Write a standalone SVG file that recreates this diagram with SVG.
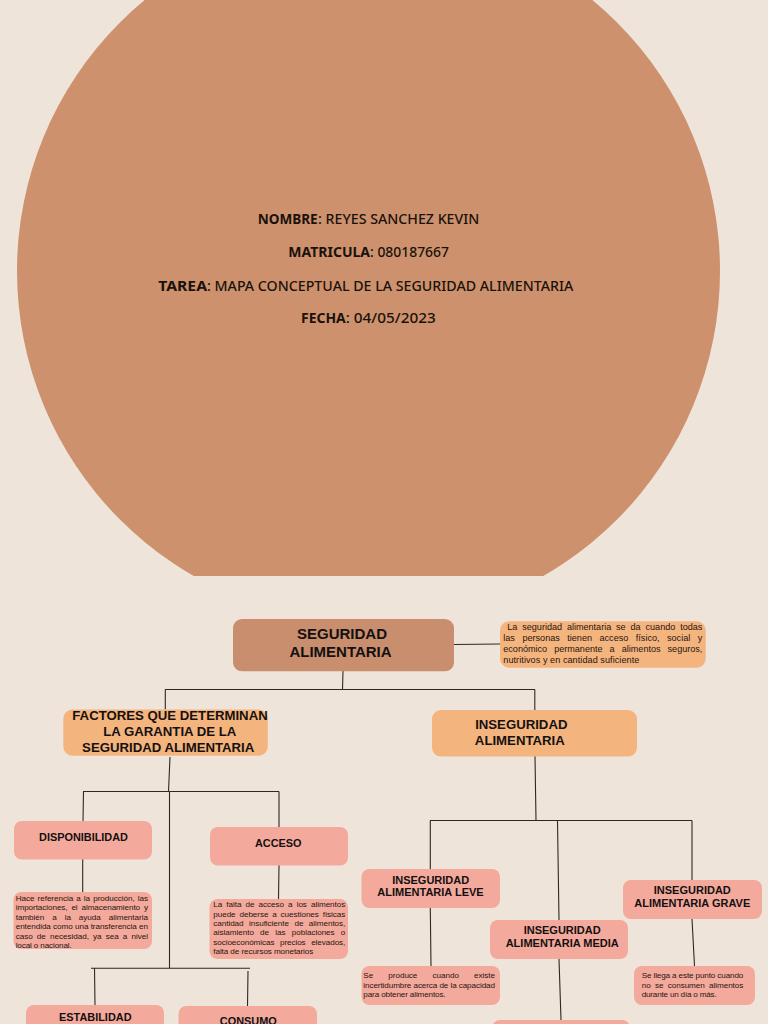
<svg xmlns="http://www.w3.org/2000/svg" width="768" height="1024" viewBox="0 0 768 1024">
<style>
.h{font-family:"Noto Sans","Liberation Sans",sans-serif;font-size:14.5px;font-weight:500;fill:#1a110b}
.b{font-weight:700}
.t{font-family:"Liberation Sans",Arial,sans-serif;font-weight:700;fill:#141010;text-anchor:middle}
.p{font-family:"Liberation Sans",Arial,sans-serif;font-size:8.1px;fill:#2a1512}
.d{font-size:9.1px}
.l{stroke:#2b2926;stroke-width:1.1;fill:none}
.peach{fill:#f4b47e}.pink{fill:#f3a99b}.main{fill:#c88e6d}
</style>
<defs><clipPath id="cc"><rect x="0" y="0" width="768" height="576"/></clipPath></defs>
<rect width="768" height="1024" fill="#efe4da"/>
<circle cx="368.5" cy="271" r="351.5" fill="#cd916d" clip-path="url(#cc)"/>
<g id="cover">
<text class="h" y="224.3"><tspan class="b" x="257.7" textLength="60" lengthAdjust="spacingAndGlyphs">NOMBRE</tspan><tspan x="318" textLength="161.3" lengthAdjust="spacingAndGlyphs">: REYES SANCHEZ KEVIN</tspan></text>
<text class="h" y="257.3"><tspan class="b" x="288.3" textLength="81.7" lengthAdjust="spacingAndGlyphs">MATRICULA</tspan><tspan x="370" textLength="79" lengthAdjust="spacingAndGlyphs">: 080187667</tspan></text>
<text class="h" y="290.7"><tspan class="b" x="158.3" textLength="48.7" lengthAdjust="spacingAndGlyphs">TAREA</tspan><tspan x="207" textLength="366.3" lengthAdjust="spacingAndGlyphs">: MAPA CONCEPTUAL DE LA SEGURIDAD ALIMENTARIA</tspan></text>
<text class="h" y="323.3"><tspan class="b" x="301" textLength="44.7" lengthAdjust="spacingAndGlyphs">FECHA</tspan><tspan x="345.7" textLength="90" lengthAdjust="spacingAndGlyphs">: 04/05/2023</tspan></text>
</g>
<g id="connectors" class="l">
<path d="M454 644.5L500 644"/>
<path d="M343 671L342.5 689.5M165 689.5H535M165.300 689.500V709.500M534.800 689.500V710"/>
<path d="M170 757L168.500 791.500M83 791.500H279M83.500 791.500L83 821M279 791.500V827M169.500 791.500V968M91 968.300H250M94.500 968L95 1005M248 971L247.500 1006"/>
<path d="M82.700 859V892M279 865L278.500 899"/>
<path d="M535 756L536 820.500M430 820.500H692M430.300 820.500V869M557.500 820.500L559 920M692 820.500V880"/>
<path d="M430.300 908L431 966M559 959L561 1020M692 919L694.500 966"/>
</g>
<g id="n-seguridad"><rect class="main" x="233" y="619" width="221" height="52.300" rx="9"/><text class="t" font-size="15"><tspan x="342" y="639.300">SEGURIDAD</tspan><tspan x="340.500" y="657">ALIMENTARIA</tspan></text></g>
<g id="n-def"><rect class="peach" x="500" y="621.300" width="205.700" height="46.400" rx="9"/><text class="p d"><tspan x="507.300" y="629.500" word-spacing="2.4" textLength="195">La seguridad alimentaria se da cuando todas</tspan><tspan x="503.300" y="640.800" word-spacing="5" textLength="199">las personas tienen acceso físico, social y</tspan><tspan x="503.300" y="652" word-spacing="4.6" textLength="199">económico permanente a alimentos seguros,</tspan><tspan x="503.300" y="663" textLength="136">nutritivos y en cantidad suficiente</tspan></text></g>
<g id="n-factores"><rect class="peach" x="63.300" y="709.500" width="204.500" height="46.200" rx="9"/><text class="t" font-size="13.200"><tspan x="170" y="720.300">FACTORES QUE DETERMINAN</tspan><tspan x="169.800" y="736">LA GARANTIA DE LA</tspan><tspan x="168.200" y="752.300">SEGURIDAD ALIMENTARIA</tspan></text></g>
<g id="n-inseguridad"><rect class="peach" x="432" y="710" width="205" height="46.600" rx="9"/><text class="t" font-size="13.200"><tspan x="521.300" y="729.300">INSEGURIDAD</tspan><tspan x="519.800" y="745">ALIMENTARIA</tspan></text></g>
<g id="n-disponibilidad"><rect class="pink" x="14" y="821" width="138" height="38.500" rx="8"/><text class="t" font-size="10.900" x="83.500" y="841.300">DISPONIBILIDAD</text></g>
<g id="n-acceso"><rect class="pink" x="210" y="827" width="138" height="38.500" rx="8"/><text class="t" font-size="10.900" x="278.300" y="847.300">ACCESO</text></g>
<g id="n-disp-text"><rect class="pink" x="13.500" y="892" width="138.500" height="57" rx="8"/><text class="p"><tspan x="15.700" y="900.500" word-spacing="0.9" textLength="132.300">Hace referencia a la producción, las</tspan><tspan x="15.700" y="910" word-spacing="1.7" textLength="132.300">importaciones, el almacenamiento y</tspan><tspan x="15.700" y="919.600" word-spacing="5.7" textLength="132.300">también a la ayuda alimentaria</tspan><tspan x="15.700" y="929.200" word-spacing="0.1" textLength="132.300">entendida como una transferencia en</tspan><tspan x="15.700" y="938.800" word-spacing="1.9" textLength="132.300">caso de necesidad, ya sea a nivel</tspan><tspan x="15.700" y="948.400" textLength="56">local o nacional.</tspan></text></g>
<g id="n-acc-text"><rect class="pink" x="209.500" y="899" width="138.500" height="60" rx="8"/><text class="p"><tspan x="213.300" y="907" word-spacing="1.9" textLength="132">La falta de acceso a los alimentos</tspan><tspan x="213.300" y="916.500" word-spacing="1.7" textLength="132">puede deberse a cuestiones físicas</tspan><tspan x="213.300" y="926" word-spacing="3.3" textLength="132">cantidad insuficiente de alimentos,</tspan><tspan x="213.300" y="935.400" word-spacing="4" textLength="132">aislamiento de las poblaciones o</tspan><tspan x="213.300" y="944.900" word-spacing="3.4" textLength="132">socioeconómicas precios elevados,</tspan><tspan x="213.300" y="954.300" textLength="100">falta de recursos monetarios</tspan></text></g>
<g id="n-estabilidad"><rect class="pink" x="26" y="1005" width="138" height="38.500" rx="8"/><text class="t" font-size="10.900" x="95.300" y="1021">ESTABILIDAD</text></g>
<g id="n-consumo"><rect class="pink" x="178.500" y="1006" width="138.500" height="38.500" rx="8"/><text class="t" font-size="10.900" x="248.300" y="1025">CONSUMO</text></g>
<g id="n-leve"><rect class="pink" x="361.500" y="869" width="138.500" height="39" rx="8"/><text class="t" font-size="11"><tspan x="430.700" y="884">INSEGURIDAD</tspan><tspan x="430.500" y="896.300">ALIMENTARIA LEVE</tspan></text></g>
<g id="n-media"><rect class="pink" x="490" y="920" width="138" height="39" rx="8"/><text class="t" font-size="11"><tspan x="562.200" y="934">INSEGURIDAD</tspan><tspan x="562.200" y="947">ALIMENTARIA MEDIA</tspan></text></g>
<g id="n-grave"><rect class="pink" x="623" y="880" width="139" height="39" rx="8"/><text class="t" font-size="11"><tspan x="692.300" y="894">INSEGURIDAD</tspan><tspan x="692.300" y="907">ALIMENTARIA GRAVE</tspan></text></g>
<g id="n-leve-text"><rect class="pink" x="361.500" y="966" width="138.500" height="39" rx="8"/><text class="p"><tspan x="363.300" y="978.300" word-spacing="13" textLength="131.700">Se produce cuando existe</tspan><tspan x="363.300" y="987.800" word-spacing="0" textLength="131.700">incertidumbre acerca de la capacidad</tspan><tspan x="363.300" y="997.300" textLength="82.300">para obtener alimentos.</tspan></text></g>
<g id="n-grave-text"><rect class="pink" x="634" y="966" width="121" height="39" rx="8"/><text class="p"><tspan x="641.700" y="978.300" textLength="101.600">Se llega a este punto cuando</tspan><tspan x="641.700" y="987.800" word-spacing="2.2" textLength="101.600">no se consumen alimentos</tspan><tspan x="641.700" y="997.300" textLength="75">durante un día o más.</tspan></text></g>
<g id="n-media-text"><rect class="pink" x="492" y="1020" width="138" height="39" rx="8"/><text class="p" x="498" y="1028.500" textLength="115">Cuando la calidad de los alimentos</text></g>
</svg>
